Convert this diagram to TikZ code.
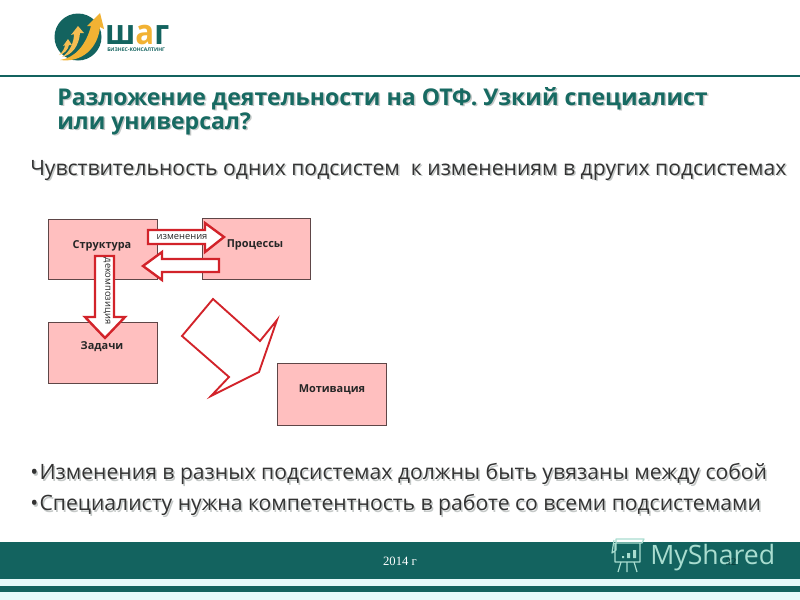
\documentclass[tikz,border=0pt]{standalone}
\usepackage{fontspec}
\setmainfont{Open Sans}
\newfontfamily\serifcyr{Liberation Serif}
\usetikzlibrary{calc}
\definecolor{teal1}{HTML}{13635F}
\definecolor{tealtext}{HTML}{176A62}
\definecolor{pinkbox}{HTML}{FFBFBF}
\definecolor{boxline}{HTML}{5E4647}
\definecolor{redline}{HTML}{D2232A}
\definecolor{markc}{HTML}{A9DDD0}
\definecolor{gold}{HTML}{F2B233}
\definecolor{palestripe}{HTML}{E6FAFA}
\definecolor{shadowc}{HTML}{C4C8C7}
\tikzset{
 sbox/.style={draw=boxline,line width=0.75pt,fill=pinkbox},
 boxlabel/.style={font=\fontsize{8.2}{10}\selectfont\bfseries,text=black!85,inner sep=0pt},
 blockarrow/.style={draw=redline,line width=1.8pt,fill=white,line join=miter},
 arrowlabel/.style={font=\fontsize{7}{8}\selectfont,text=black!85,inner sep=0pt},
 titletext/.style={font=\fontsize{17.3}{21}\selectfont\bfseries,text=tealtext,anchor=west,inner sep=0pt},
 titleshadow/.style={font=\fontsize{17.3}{21}\selectfont\bfseries,text=shadowc,anchor=west,inner sep=0pt},
 bodytext/.style={font=\fontsize{15.85}{19}\selectfont,text=black!80,anchor=west,inner sep=0pt},
 bodyshadow/.style={font=\fontsize{15.85}{19}\selectfont,text=shadowc,anchor=west,inner sep=0pt},
 marktext/.style={text=markc,inner sep=0pt},
}
\begin{document}
\begin{tikzpicture}[x=0.75pt,y=-0.75pt]
\useasboundingbox (0,0) rectangle (800,600);
\fill[white] (0,0) rectangle (800,600);
% logo
\fill[teal1] (78,37) circle (23.5);
\fill[gold] (60,60) .. controls (75,58) and (86,45) .. (91,26) -- (87,26) -- (100,13) -- (104,29) -- (100,27)
  .. controls (98,48) and (82,63) .. (60,60) -- cycle;
\fill[gold!85!white] (62,57) .. controls (70,52) and (74,42) .. (74,34) -- (71,35) -- (78,26) -- (84,33) -- (80,33)
  .. controls (79,46) and (72,55) .. (62,57) -- cycle;
\fill[gold!85!white] (59,55) .. controls (63,52) and (65,47) .. (65,45) -- (63,46) -- (68,39) -- (72,45) -- (69,45)
  .. controls (68,50) and (64,54) .. (59,55) -- cycle;
\node[inner sep=0pt,font=\fontsize{26}{26}\selectfont\bfseries,text=teal1,anchor=base west,xscale=0.9] (logoname) at (105,44) {ш\textcolor{gold}{а}г};
\node[inner sep=0pt,font=\fontsize{3.8}{4}\selectfont\bfseries,text=teal1,anchor=base west] (logosub) at (107,51) {БИЗНЕС-КОНСАЛТИНГ};
% rules and bands
\fill[teal1] (0,75) rectangle (800,77);
\fill[palestripe] (0,579) rectangle (800,600);
\fill[teal1] (0,542) rectangle (800,579);
\fill[teal1] (0,586) rectangle (800,592);
% title
\node[titleshadow] (t1s) at (58.5,100) {Разложение деятельности на ОТФ. Узкий специалист};
\node[titleshadow] (t2s) at (58.5,125) {или универсал?};
\node[titletext] (t1) at (57,98.5) {Разложение деятельности на ОТФ. Узкий специалист};
\node[titletext] (t2) at (57,123.5) {или универсал?};
% subtitle
\node[bodyshadow] (subs) at (31.5,171.5) {Чувствительность одних подсистем\ \ к изменениям в других подсистемах};
\node[bodytext] (sub) at (30,170) {Чувствительность одних подсистем\ \ к изменениям в других подсистемах};
% boxes
\draw[sbox] (48,219) rectangle (157,279);
\draw[sbox] (202,218) rectangle (310,279);
\draw[sbox] (48,322) rectangle (157,383);
\draw[sbox] (277,363) rectangle (386,425);
\node[boxlabel] (struct) at (102,246) {Структура};
\node[boxlabel] (proc) at (255,244.5) {Процессы};
\node[boxlabel] (task) at (102,347) {Задачи};
\node[boxlabel] (motiv) at (332,390) {Мотивация};
% block arrows
\draw[blockarrow] (148,230) -- (205,230) -- (205,223) -- (224,237) -- (205,252) -- (205,244) -- (148,244) -- cycle;
\draw[blockarrow] (219,259) -- (162,259) -- (162,252) -- (143,266) -- (162,280) -- (162,272) -- (219,272) -- cycle;
\draw[blockarrow] (95,256) -- (114,256) -- (114,317) -- (125,317) -- (105,338) -- (85,317) -- (95,317) -- cycle;
\draw[draw=redline,line width=1.4pt,fill=white] (213,299) -- (260,341) -- (277,320) -- (259,372) -- (211,396) -- (229,377) -- (182,336) -- cycle;
\node[arrowlabel] (chg) at (182,237) {изменения};
\node[arrowlabel,rotate=-90] (dec) at (107,291) {декомпозиция};
% bullets
\node[bodyshadow] (b1s) at (31.5,475.5) {•\hspace{1pt}Изменения в разных подсистемах должны быть увязаны между собой};
\node[bodytext] (b1) at (30,474) {•\hspace{1pt}Изменения в разных подсистемах должны быть увязаны между собой};
\node[bodyshadow] (b2s) at (31.5,506.5) {•\hspace{1pt}Специалисту нужна компетентность в работе со всеми подсистемами};
\node[bodytext] (b2) at (30,505) {•\hspace{1pt}Специалисту нужна компетентность в работе со всеми подсистемами};
% footer
\node[inner sep=0pt,text=white,font=\serifcyr\fontsize{9.5}{11}\selectfont] (year) at (400,561) {2014 г};
% watermark
\draw[markc,line width=0.9pt,line join=round] (614,540) -- (612,553) -- (616,550) -- (616,539) -- (642,539) (616,543) -- (642,543) -- (644,539) -- (642,539)
 (615,543) -- (615,562) -- (640,562) -- (640,543);
\fill[markc] (622,558) rectangle +(2,-2) (627,558) rectangle +(3,-5) (633,558) rectangle +(3,-8);
\draw[markc,line width=0.9pt] (627,562) -- (627,572) (621,562) -- (618,572) (634,562) -- (637,572);
\node[marktext,font=\fontsize{20}{24}\selectfont,anchor=base west] (mark) at (650,564) {MyShared};
\node[inner sep=0pt,text=teal1!60!black,font=\serifcyr\fontsize{8}{10}\selectfont] (page) at (731,562) {32};
\end{tikzpicture}
\end{document}
